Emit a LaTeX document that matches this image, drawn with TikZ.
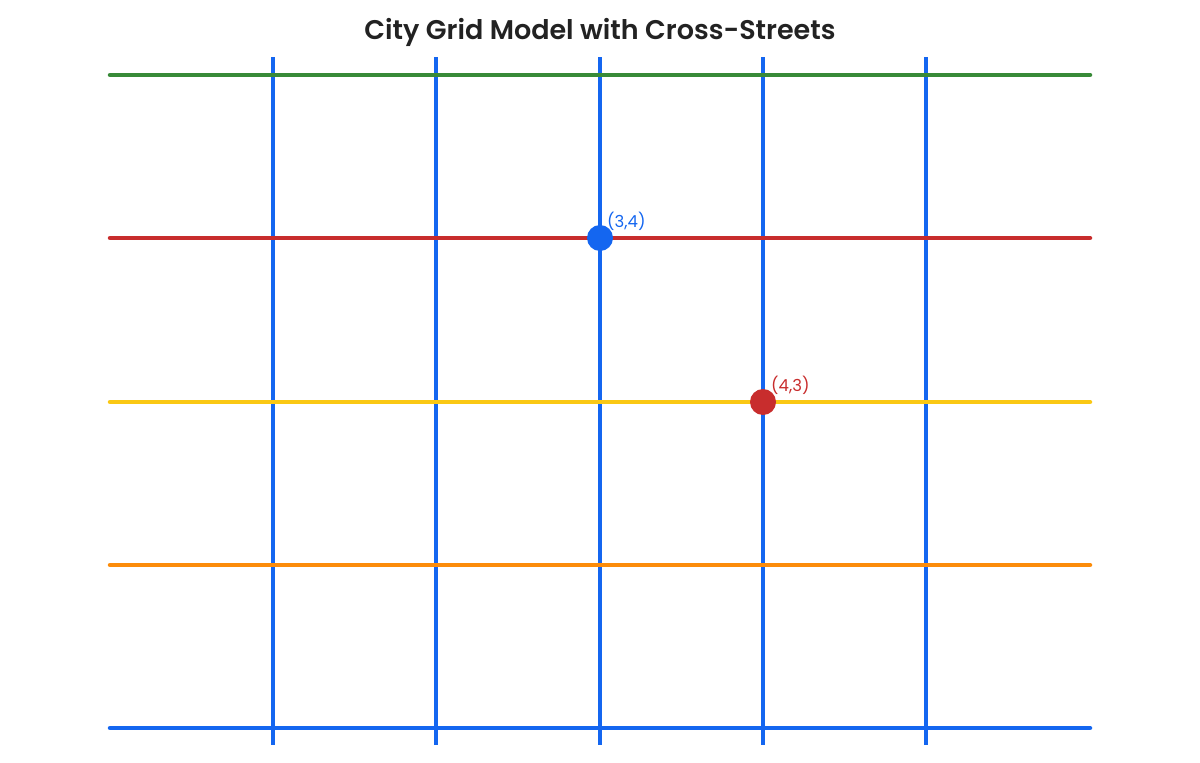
\documentclass[tikz,border=0pt]{standalone}
\usepackage{fontspec}
\setmainfont{Poppins}
\newfontfamily\titlefont{Poppins SemiBold}
\definecolor{sgreen}{RGB}{56,138,56}
\definecolor{sred}{RGB}{200,45,45}
\definecolor{syellow}{RGB}{250,200,20}
\definecolor{sorange}{RGB}{252,140,10}
\definecolor{sblue}{RGB}{20,102,240}
\definecolor{stitle}{RGB}{34,34,34}
\tikzset{
  avenue/.style={draw=sblue,line width=4.5pt},
  street/.style={line width=4.5pt,line cap=round},
  dot/.style={circle,inner sep=0pt,minimum size=26pt},
  lbl/.style={font=\fontsize{16.5}{19}\selectfont,anchor=south west,inner sep=0pt}
}
\begin{document}
\begin{tikzpicture}[x=1pt,y=-1pt]
\useasboundingbox (0,0) rectangle (1200,763);
\node[font=\titlefont\fontsize{27}{32}\selectfont,text=stitle] (title) at (600,32) {City Grid Model with Cross-Streets};
% avenues
\foreach \x/\n in {273/1,436/2,600/3,763/4,926/5}{
  \coordinate (vt\n) at (\x,57);
  \coordinate (vb\n) at (\x,745);
  \draw[avenue] (vt\n) -- (vb\n);
}
% streets
\foreach \y/\n/\c in {75/5/sgreen,238/4/sred,402/3/syellow,565/2/sorange,728/1/sblue}{
  \coordinate (hl\n) at (110,\y);
  \coordinate (hr\n) at (1090,\y);
  \draw[street,draw=\c] (hl\n) -- (hr\n);
}
\node[dot,fill=sblue] (p34) at (600,238) {};
\node[dot,fill=sred] (p43) at (763,402) {};
\node[lbl,text=sblue] (l34) at (607,231) {(3,4)};
\node[lbl,text=sred] (l43) at (771,395) {(4,3)};
\end{tikzpicture}
\end{document}
